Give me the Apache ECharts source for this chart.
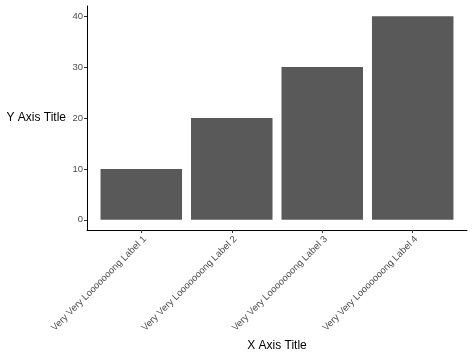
<!DOCTYPE html>
<html>
<head>
<meta charset="utf-8">
<script src="https://cdn.jsdelivr.net/npm/echarts@6/dist/echarts.min.js"></script>
<style>html,body{margin:0;padding:0;background:#fff;}#c{width:474px;height:355px;}</style>
</head>
<body>
<div id="c"></div>
<script>
var categories = ["Very Very Looooooong Label 1", "Very Very Looooooong Label 2", "Very Very Looooooong Label 3", "Very Very Looooooong Label 4"];
var values = [10, 20, 30, 40];
var yTicks = [0, 10, 20, 30, 40];
var xTicks = [1, 2, 3, 4];

var FONT = 'Liberation Sans, Arial, sans-serif';
var chart = echarts.init(document.getElementById('c'), null, {renderer: 'canvas'});
chart.setOption({
  animation: false,
  backgroundColor: '#ffffff',
  grid: {left: 87, right: 7, top: 6, bottom: 125, containLabel: false, outerBoundsMode: 'none'},
  xAxis: {
    type: 'value', min: 0.4, max: 4.6,
    name: 'X Axis Title', nameLocation: 'middle', nameGap: 102,
    nameTextStyle: {color: '#000', fontSize: 12, fontFamily: FONT},
    axisLine: {show: true, onZero: false, lineStyle: {color: '#000', width: 1}},
    axisTick: {show: true, length: 3, customValues: xTicks, lineStyle: {color: '#333'}},
    axisLabel: {show: true, customValues: xTicks, rotate: 45, margin: 4, verticalAlign: 'top', color: '#4D4D4D', fontSize: 9.5, fontFamily: FONT,
      formatter: function (v) { return categories[Math.round(v) - 1] || ''; }},
    splitLine: {show: false}
  },
  yAxis: {
    type: 'value', min: -2, max: 42,
    name: 'Y Axis Title', nameLocation: 'middle', nameRotate: 0, nameGap: 21,
    nameTextStyle: {color: '#000', fontSize: 12, fontFamily: FONT, align: 'right', verticalAlign: 'middle'},
    axisLine: {show: true, onZero: false, lineStyle: {color: '#000', width: 1}},
    axisTick: {show: true, length: 3, customValues: yTicks, lineStyle: {color: '#333'}},
    axisLabel: {show: true, customValues: yTicks, margin: 4, color: '#4D4D4D', fontSize: 9.5, fontFamily: FONT},
    splitLine: {show: false}
  },
  series: [{
    type: 'bar',
    barWidth: 81.5,
    itemStyle: {color: '#595959'},
    data: values.map(function (v, i) { return [xTicks[i], v]; })
  }]
});
</script>
</body>
</html>
